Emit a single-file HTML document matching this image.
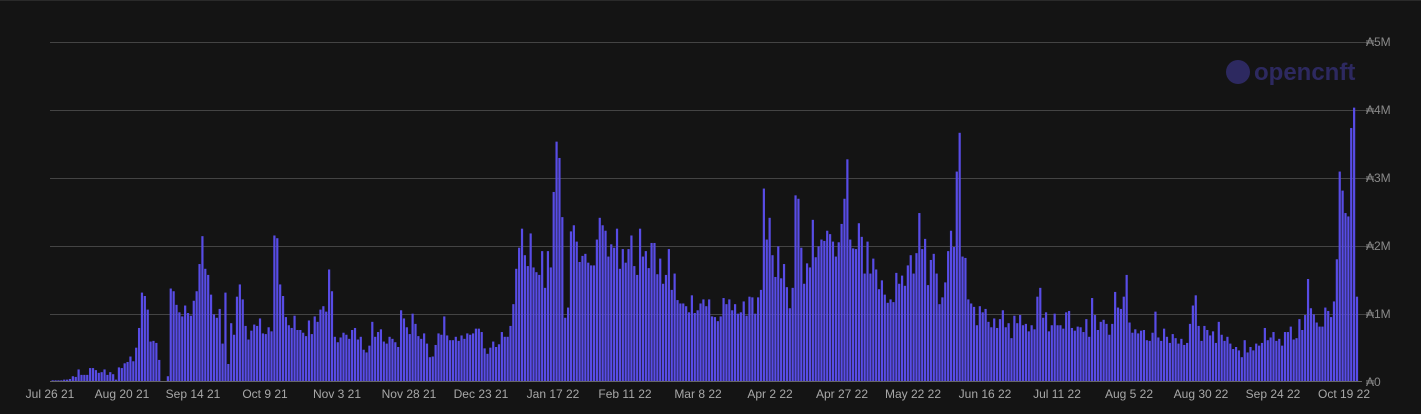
<!DOCTYPE html>
<html><head><meta charset="utf-8"><style>
html,body{margin:0;padding:0;background:#141414;}
body{width:1421px;height:414px;overflow:hidden;}
svg{display:block;font-family:"Liberation Sans",sans-serif;}
</style></head><body>
<svg id="c" width="1421" height="414" xmlns="http://www.w3.org/2000/svg">
<rect x="0" y="0" width="1421" height="414" fill="#141414"/>
<line x1="0" y1="0.5" x2="1421" y2="0.5" stroke="#2a2a2a"/>
<g stroke="#444" stroke-width="1">
<line x1="50" y1="42.5" x2="1370" y2="42.5"/>
<line x1="50" y1="110.5" x2="1370" y2="110.5"/>
<line x1="50" y1="178.5" x2="1370" y2="178.5"/>
<line x1="50" y1="246.5" x2="1370" y2="246.5"/>
<line x1="50" y1="314.5" x2="1370" y2="314.5"/>
</g>
<circle cx="1238" cy="72" r="12" fill="#2d2960"/>
<text x="1254" y="80" font-size="24" font-weight="bold" fill="#2d2960">opencnft</text>
<g id="bars"></g>
<line x1="50" y1="381.5" x2="1362" y2="381.5" stroke="#666"/>
<g font-size="12" fill="#8a8a8a">
<text x="1366" y="46">₳5M</text>
<text x="1366" y="114">₳4M</text>
<text x="1366" y="182">₳3M</text>
<text x="1366" y="250">₳2M</text>
<text x="1366" y="318">₳1M</text>
<text x="1366" y="386">₳0</text>
</g>
<g font-size="12" fill="#a8a8a8" text-anchor="middle">
<text x="50" y="398">Jul 26 21</text>
<text x="122" y="398">Aug 20 21</text>
<text x="193" y="398">Sep 14 21</text>
<text x="265" y="398">Oct 9 21</text>
<text x="337" y="398">Nov 3 21</text>
<text x="409" y="398">Nov 28 21</text>
<text x="481" y="398">Dec 23 21</text>
<text x="553" y="398">Jan 17 22</text>
<text x="625" y="398">Feb 11 22</text>
<text x="698" y="398">Mar 8 22</text>
<text x="770" y="398">Apr 2 22</text>
<text x="842" y="398">Apr 27 22</text>
<text x="913" y="398">May 22 22</text>
<text x="985" y="398">Jun 16 22</text>
<text x="1057" y="398">Jul 11 22</text>
<text x="1129" y="398">Aug 5 22</text>
<text x="1201" y="398">Aug 30 22</text>
<text x="1273" y="398">Sep 24 22</text>
<text x="1344" y="398">Oct 19 22</text>
</g>
</svg>
<script>
var s1=[0.01,0.01,0.01,0.01,0.02,0.02,0.03,0.07,0.06,0.17,0.09,0.09,0.09,0.19,0.19,0.16,0.12,0.13,0.17,0.09,0.13,0.1,0.02,0.2,0.19,0.26,0.28,0.36,0.29,0.49,0.78,1.3,1.25,1.05,0.58,0.59,0.56,0.31,0,0,0.07,1.36,1.32,1.12,1.01,0.95,1.11,1.0,0.96,1.18,1.32,1.72,2.13,1.65,1.56,1.27,0.98,0.93,1.06,0.55,1.3,0.25,0.85,0.68,1.24,1.42,1.2,0.81,0.61,0.74,0.83,0.81,0.92,0.7,0.69,0.79,0.73];
var s2=[2.14,2.1,1.42,1.25,0.94,0.82,0.78,0.96,0.75,0.75,0.71,0.66,0.89,0.69,0.95,0.87,1.05,1.1,1.02,1.64,1.32,0.65,0.57,0.64,0.71,0.68,0.62,0.75,0.78,0.61,0.65,0.46,0.42,0.52,0.87,0.65,0.72,0.76,0.58,0.55,0.65,0.62,0.57,0.5,1.04,0.92,0.79,0.69,0.99,0.84,0.66,0.62,0.7,0.55,0.35,0.36,0.53,0.7,0.68,0.95,0.67,0.6,0.6,0.65,0.59,0.67,0.62,0.7,0.68,0.7,0.77,0.77];
var s3=[0.72,0.48,0.4,0.49,0.58,0.5,0.54,0.72,0.65,0.65,0.81,1.13,1.65,1.96,2.24,1.85,1.69,2.17,1.67,1.6,1.56,1.91,1.37,1.91,1.67,2.78,3.52,3.28,2.41,0.93,1.08,2.2,2.29,2.05,1.75,1.84,1.87,1.74,1.7,1.7,2.08,2.4,2.29,2.21,1.83,2.01,1.96,2.24,1.65,1.94,1.74,1.94,2.14,1.69,1.56,2.24,1.83,1.91,1.66,2.03,2.03,1.57,1.8,1.43,1.56,1.94,1.34,1.58,1.19,1.14,1.14,1.1,1.01,1.26,1.0,1.04,1.14];
var s4=[1.2,1.1,1.2,0.95,0.94,0.88,0.95,1.22,1.13,1.2,1.04,1.13,0.99,1.01,1.17,0.96,1.24,1.23,0.99,1.23,1.34,2.83,2.08,2.4,1.85,1.53,1.98,1.51,1.72,1.38,1.07,1.37,2.73,2.68,1.96,1.43,1.73,1.67,2.37,1.82,1.98,2.08,2.06,2.21,2.16,2.05,1.83,2.04,2.31,2.68,3.26,2.08,1.95,1.94,2.32,2.12,1.58,2.05,1.58,1.8,1.64,1.35,1.48,1.27,1.15,1.2,1.16,1.59,1.43,1.55,1.4,1.7,1.85,1.58,1.88,2.47];
var s5=[1.94,2.09,1.41,1.78,1.87,1.58,1.13,1.23,1.45,1.91,2.21,1.97,3.08,3.65,1.83,1.81,1.2,1.14,1.09,0.82,1.1,1.01,1.06,0.87,0.79,0.92,0.78,0.91,1.04,0.79,0.85,0.63,0.96,0.85,0.97,0.82,0.84,0.73,0.82,0.76,1.24,1.37,0.93,1.01,0.73,0.82,0.99,0.82,0.82,0.77,1.01,1.03,0.78,0.74,0.8,0.79,0.72,0.91,0.65,1.22,0.97,0.75,0.87,0.9,0.84,0.68,0.84,1.31,1.08,1.06,1.24,1.56,0.86,0.71,0.76,0.7,0.74];
var s6=[0.75,0.6,0.59,0.71,1.02,0.64,0.59,0.77,0.65,0.56,0.69,0.63,0.55,0.62,0.53,0.56,0.84,1.11,1.26,0.81,0.59,0.81,0.75,0.67,0.73,0.56,0.87,0.68,0.59,0.65,0.55,0.47,0.5,0.45,0.35,0.6,0.42,0.5,0.45,0.55,0.52,0.56,0.78,0.6,0.64,0.72,0.59,0.62,0.52,0.72,0.72,0.8,0.61,0.63,0.91,0.75,0.97,1.5,1.07,0.98,0.86,0.8,0.8,1.08,1.03,0.94,1.17,1.79,3.08,2.8,2.47,2.42,3.72,4.02,1.24];
var d=s1.concat(s2,s3,s4,s5,s6);
var x0=52.7,x1=1357,n=d.length,p=(x1-x0)/(n-1),h='';
for(var i=0;i<n;i++){var v=d[i];if(v<=0)continue;var hh=v*68;var x=x0+i*p-1.1;
h+='<rect x="'+x.toFixed(2)+'" y="'+(381-hh).toFixed(2)+'" width="2.2" height="'+hh.toFixed(2)+'" fill="#584ce6"/>';}
document.getElementById('bars').innerHTML=h;
</script>
</body></html>
